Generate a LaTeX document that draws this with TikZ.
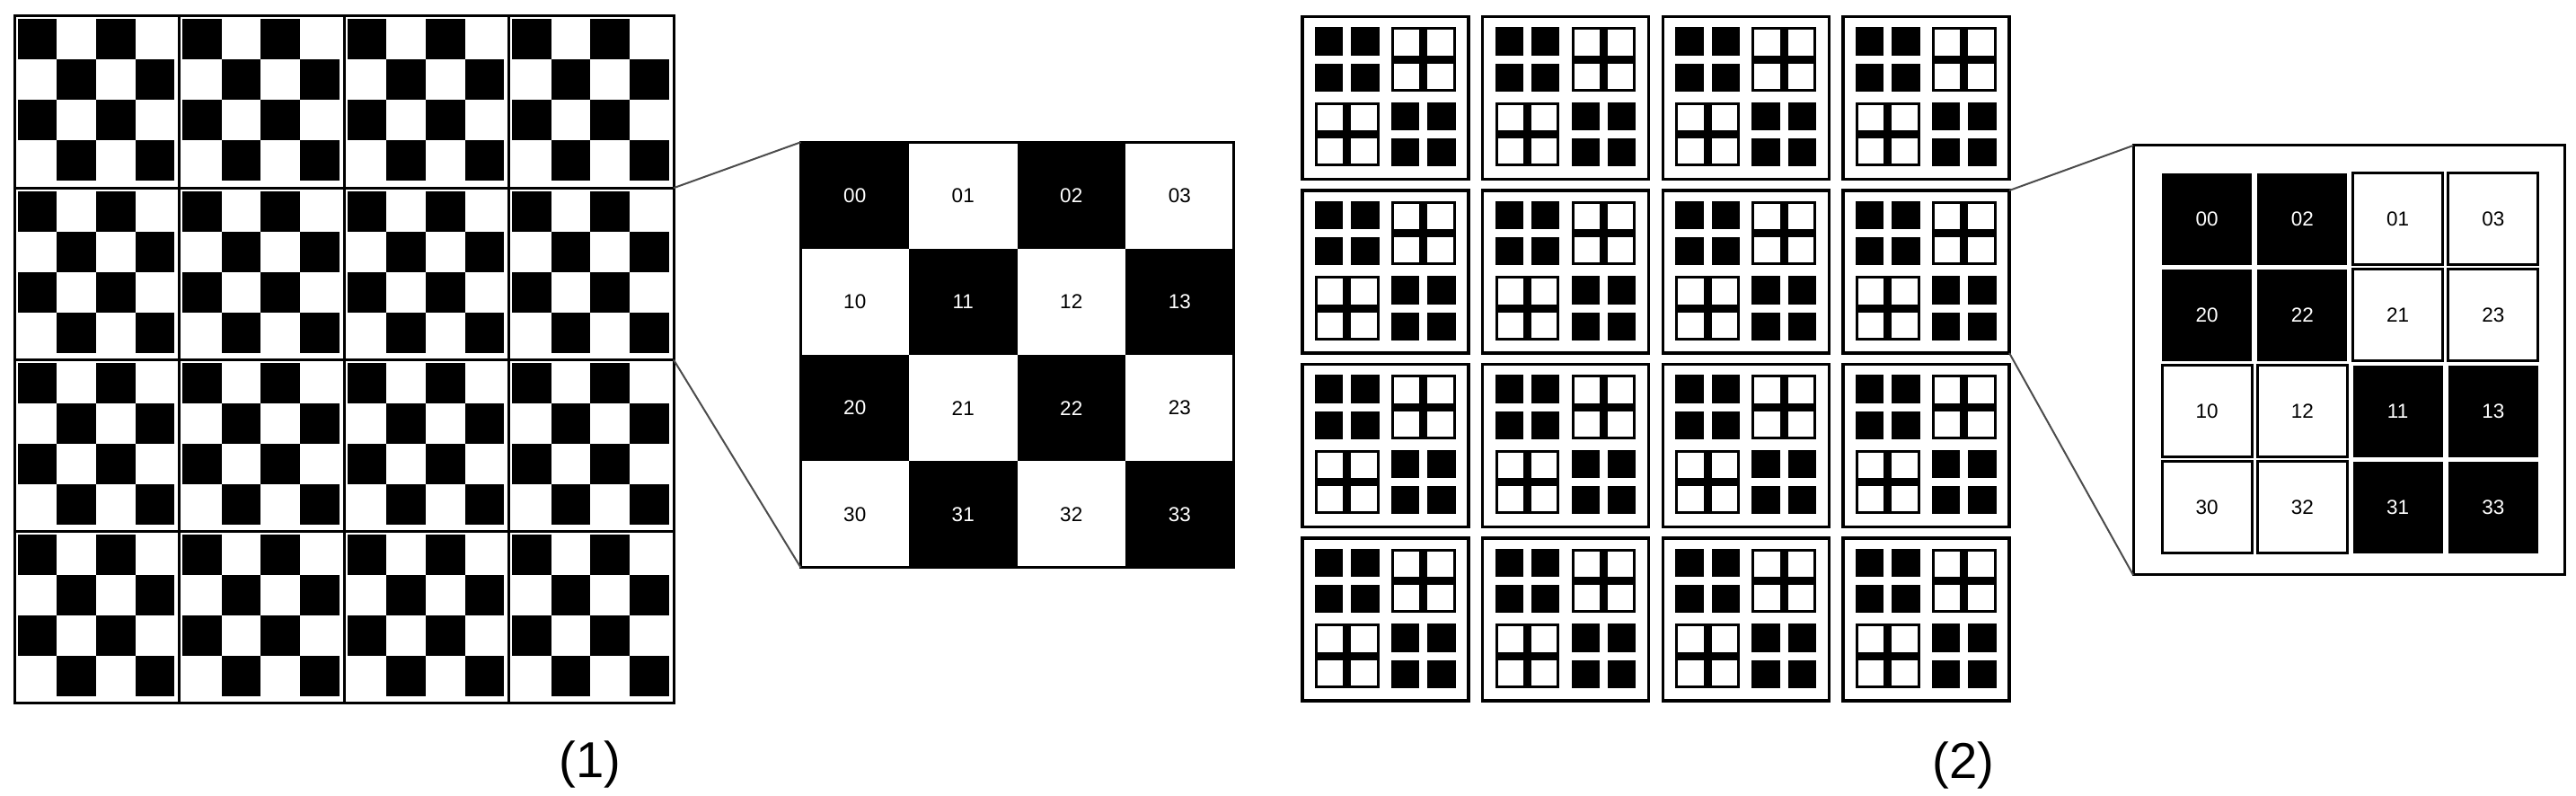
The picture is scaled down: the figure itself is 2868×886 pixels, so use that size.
\documentclass[tikz,border=0pt]{standalone}
\usepackage{fontspec}
\setmainfont{Liberation Sans}

\begin{document}
\begin{tikzpicture}[x=0.1mm, y=-0.1mm,
        frame/.style={draw, line width=0.3mm, inner sep=0pt, outer sep=0pt},
        zoomline/.style={draw=black!70, line width=0.2mm},
        num/.style={font=\fontsize{6.4}{7.5}\selectfont, inner sep=0pt},
        caption/.style={font=\fontsize{16}{19}\selectfont, inner sep=0pt}]
        \useasboundingbox (0,0) rectangle (2868,886);

        \foreach \r in {0,...,3}
            \foreach \c in {0,...,3} {
                \foreach \i in {0,...,3}
                    \foreach \j in {0,2}
                        \fill ({19.5+183.5*\c+43.7*(\j+mod(\i,2))}, {21.5+191.25*\r+45*\i}) rectangle ++(43.7,45);
                \node[frame, minimum width=18.35mm, minimum height=19.125mm] (one-\r-\c) at ({107.75+183.5*\c}, {113.6+191.25*\r}) {};
            }

        \foreach \i in {0,...,3}
            \foreach \j in {0,...,3} {
                \pgfmathtruncatemacro{\odd}{mod(\i+\j,2)}
                \ifnum\odd=0
                    \fill ({891.5+120.5*\j}, {158.3+118.35*\i}) rectangle ++(120.5,118.35);
                    \node[num, text=white] (za-\i\j) at ({951.75+120.5*\j}, {217.5+118.35*\i}) {\i\j};
                \else
                    \node[num] (za-\i\j) at ({951.75+120.5*\j}, {217.5+118.35*\i}) {\i\j};
                \fi
            }
        \node[frame, minimum width=48.2mm, minimum height=47.34mm] (zoomone) at (1132.5, 395) {};
        \draw[zoomline] (one-1-3.north east) -- (zoomone.north west);
        \draw[zoomline] (one-1-3.south east) -- (zoomone.south west);
        \node[caption] (capone) at (657, 851) {(1)};

        \foreach \r in {0,...,3}
            \foreach \c in {0,...,3} {
                \foreach \brow in {0,1}
                    \foreach \bcol in {0,1} {
                        \ifnum\brow=\bcol
                            \foreach \srow in {0,1}
                                \foreach \scol in {0,1}
                                    \fill ({1464+200.7*\c+85*\bcol+40.25*\scol}, {30.5+193.5*\r+83.5*\brow+40.25*\srow}) rectangle ++(31.25,31.25);
                        \else
                            \fill ({1464+200.7*\c+85*\bcol}, {30.5+193.5*\r+83.5*\brow}) rectangle ++(71.5,71.5);
                            \foreach \srow in {0,1}
                                \foreach \scol in {0,1}
                                    \fill[white] ({1467+200.7*\c+85*\bcol+37.25*\scol}, {33.5+193.5*\r+83.5*\brow+37.25*\srow}) rectangle ++(28.25,28.25);
                        \fi
                    }
                \node[frame, line width=0.35mm, minimum width=18.5mm, minimum height=18.1mm] (two-\r-\c) at ({1542.5+200.7*\c}, {109+193.5*\r}) {};
            }

        \foreach \i/\ri in {0/0,1/2,2/1,3/3}
            \foreach \j/\cj in {0/0,1/2,2/1,3/3} {
                \pgfmathtruncatemacro{\odd}{mod(\ri+\cj,2)}
                \ifnum\odd=0
                    \fill ({2407+106.3*\j}, {193+107*\i}) rectangle ++(100,102);
                    \node[num, text=white] (zb-\ri\cj) at ({2457+106.3*\j}, {244+107*\i}) {\ri\cj};
                \else
                    \draw[line width=0.3mm] ({2407+106.3*\j}, {193+107*\i}) rectangle ++(100,102);
                    \node[num] (zb-\ri\cj) at ({2457+106.3*\j}, {244+107*\i}) {\ri\cj};
                \fi
            }
        \node[frame, minimum width=48mm, minimum height=47.8mm] (zoomtwo) at (2615, 401) {};
        \draw[zoomline] (two-1-3.north east) -- (zoomtwo.north west);
        \draw[zoomline] (two-1-3.south east) -- (zoomtwo.south west);
        \node[caption] (captwo) at (2186, 852) {(2)};
\end{tikzpicture}
\end{document}
